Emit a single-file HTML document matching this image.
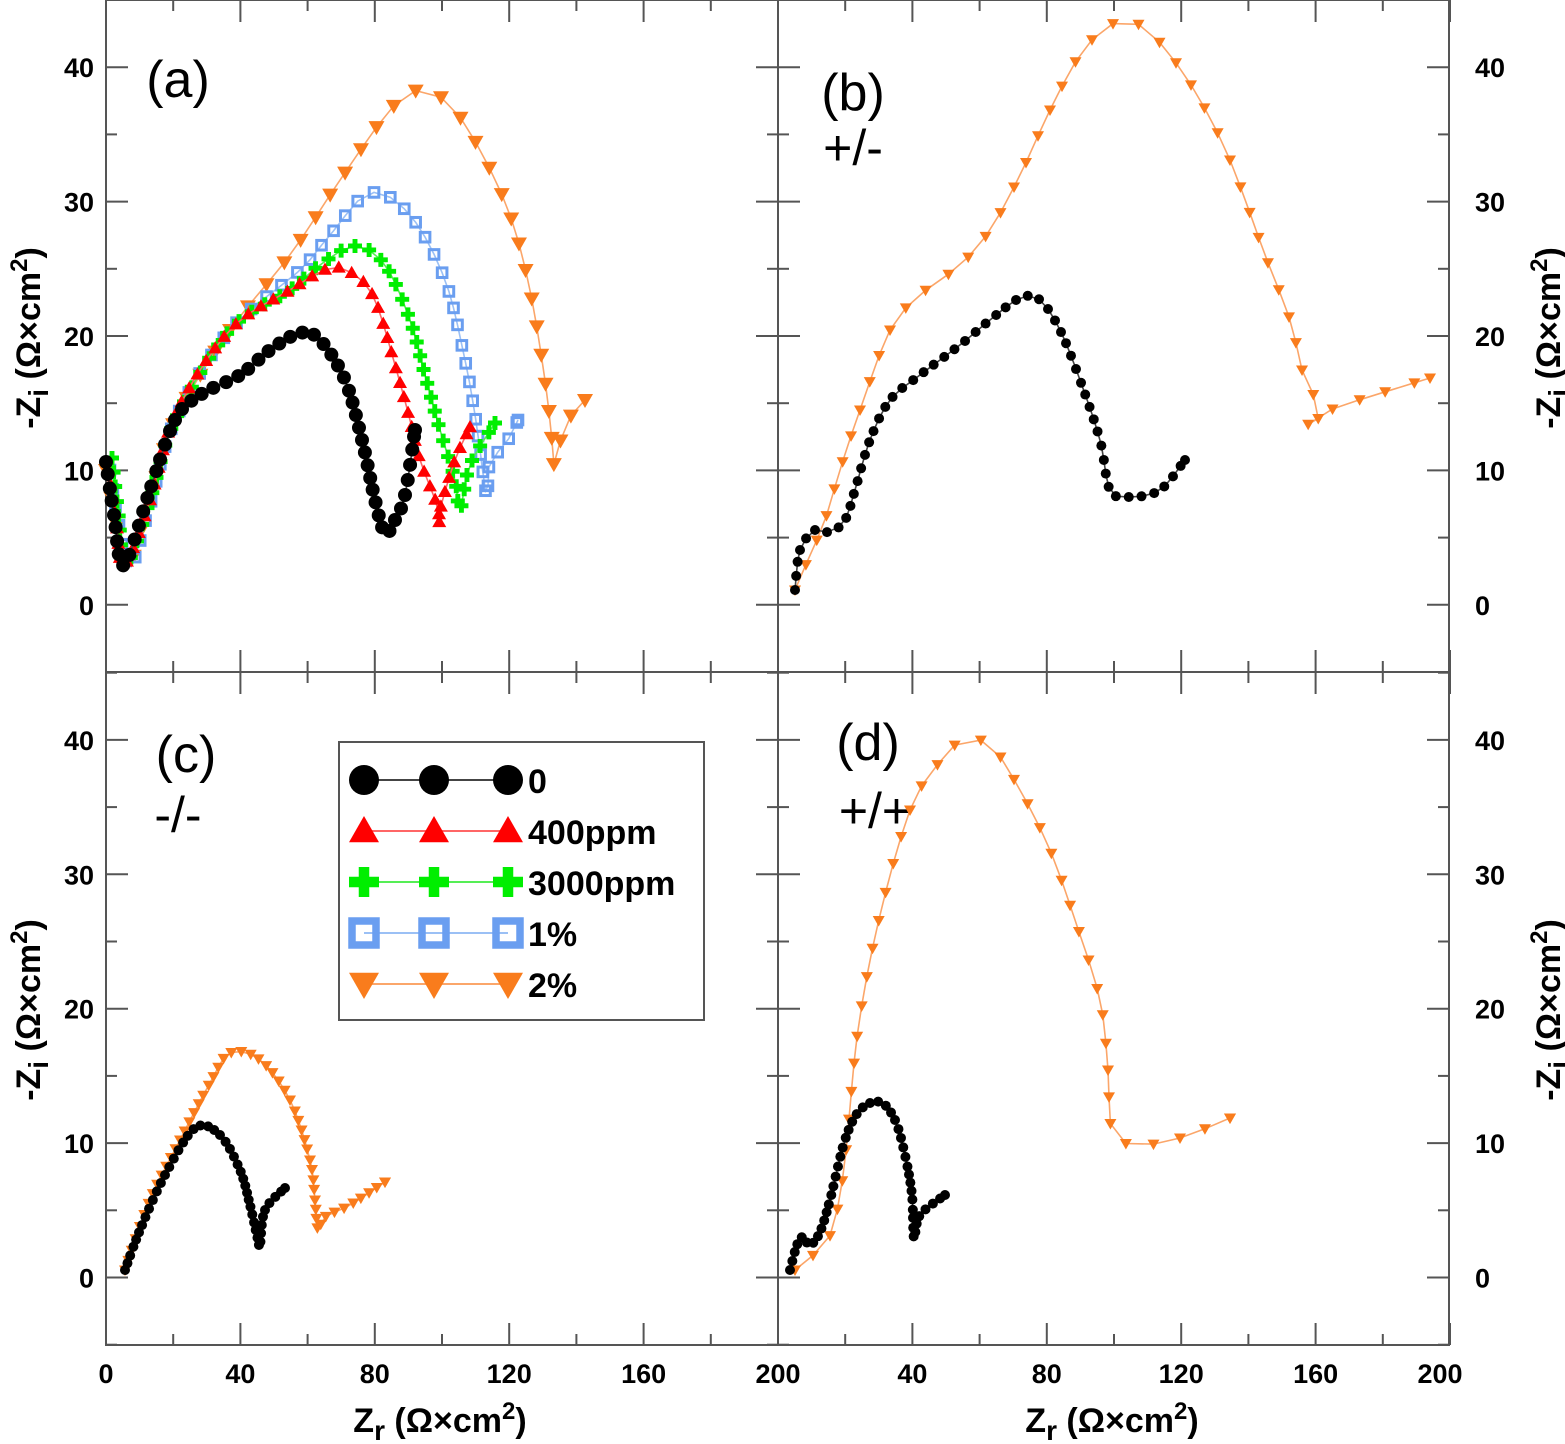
<!DOCTYPE html>
<html><head><meta charset="utf-8"><style>
html,body{margin:0;padding:0;background:#fff;}
svg{display:block;font-family:"Liberation Sans",Arial,sans-serif;font-weight:bold;}
</style></head><body>
<svg id="s" width="1565" height="1444" viewBox="0 0 1565 1444" xmlns="http://www.w3.org/2000/svg"></svg>
<script>
const S=document.getElementById('s');let h='';
const L=106,M=778,R=1449,T=0,MY=672,B=1345;
h+=`<rect x="${L}" y="${T}" width="${R-L}" height="${B-T}" fill="none" stroke="#555" stroke-width="2"/>`;
h+=`<line x1="${M}" y1="0" x2="${M}" y2="${B}" stroke="#555" stroke-width="2"/>`;
h+=`<line x1="${L}" y1="${MY}" x2="${R}" y2="${MY}" stroke="#555" stroke-width="2"/>`;
function ln(a,b,c,d){h+=`<line x1="${a}" y1="${b}" x2="${c}" y2="${d}" stroke="#555" stroke-width="2"/>`;}
function tx(x,y,t,sz,anc,extra){h+=`<text x="${x}" y="${y}" font-size="${sz}" text-anchor="${anc||'middle'}" ${extra||''}>${t}</text>`;}
const xs=672/200, ys=672/50;
[[L,0],[M,1]].forEach(([x0])=>{
 for(let v=0;v<=200;v+=20){const x=x0+v*xs;const len=v%40==0?22:11;
  ln(x,B,x,B-len);ln(x,MY,x,MY-len);ln(x,MY,x,MY+len);ln(x,T,x,T+len);}
});
[0,40,80,120,160,200].forEach(v=>{tx(L+v*xs,1383,v,27);});
[40,80,120,160].forEach(v=>{tx(M+v*xs,1383,v,27);});
tx(1440,1383,200,27);
[[604.8,0],[1277.5,1]].forEach(([y0])=>{
 for(let v=-5;v<=45;v+=5){const y=y0-v*ys;const len=v%10==0?22:11;
  ln(L,y,L+len,y);ln(M,y,M-len,y);ln(M,y,M+len,y);ln(R,y,R-len,y);
  if(v%10==0&&v>=0){tx(94,y+10,v,27,'end');tx(1475,y+10,v,27,'start');}}
});
function yt(x,y){h+=`<text transform="translate(${x},${y}) rotate(-90)" font-size="34" text-anchor="middle">-Z<tspan font-size="28" dy="8">i</tspan><tspan dy="-8"> (Ω×cm</tspan><tspan font-size="24" dy="-13">2</tspan><tspan dy="13">)</tspan></text>`;}
yt(40,338);yt(40,1010);yt(1560,338);yt(1560,1010);
function xt(x){h+=`<text x="${x}" y="1432" font-size="34" text-anchor="middle">Z<tspan font-size="28" dy="8">r</tspan><tspan dy="-8"> (Ω×cm</tspan><tspan font-size="24" dy="-13">2</tspan><tspan dy="13">)</tspan></text>`;}
xt(440);xt(1112);
const pl='font-weight="normal"';
tx(178,97,'(a)',52,'middle',pl);tx(853,110,'(b)',52,'middle',pl);tx(853,165,'+/-',50,'middle',pl);
tx(186,772,'(c)',52,'middle',pl);tx(178,832,'-/-',50,'middle',pl);tx(868,760,'(d)',52,'middle',pl);tx(875,828,'+/+',50,'middle',pl);
function cr(p){const out=[];for(let i=0;i<p.length-1;i++){const p0=p[Math.max(0,i-1)],p1=p[i],p2=p[i+1],p3=p[Math.min(p.length-1,i+2)];
 for(let t=0;t<1;t+=0.05){const t2=t*t,t3=t2*t;out.push([0,1].map(k=>0.5*(2*p1[k]+(-p0[k]+p2[k])*t+(2*p0[k]-5*p1[k]+4*p2[k]-p3[k])*t2+(-p0[k]+3*p1[k]-3*p2[k]+p3[k])*t3)));}}
 out.push(p[p.length-1]);return out;}
function res(p,sp){const c=cr(p);const o=[c[0]];let acc=0;for(let i=1;i<c.length;i++){const d=Math.hypot(c[i][0]-c[i-1][0],c[i][1]-c[i-1][1]);acc+=d;if(acc>=sp){o.push(c[i]);acc=0;}}o.push(c[c.length-1]);return o;}
const col={k:'#000',r:'#f00',g:'#0e0',b:'#6a9ef0',o:'#f97c1c'};
const lcol={k:'#444',r:'#f66',g:'#5e5',b:'#9bc0f5',o:'#fba66a'};
function mk(t,x,y,s){x=+x;y=+y;s=+s;const c=col[t];
 if(t=='k')return `<circle cx="${x}" cy="${y}" r="${s}" fill="#000"/>`;
 if(t=='r')return `<polygon points="${x},${y-s} ${x-s},${y+s*0.75} ${x+s},${y+s*0.75}" fill="${c}"/>`;
 if(t=='o')return `<polygon points="${x},${y+s} ${x-s},${y-s*0.75} ${x+s},${y-s*0.75}" fill="${c}"/>`;
 if(t=='g'){return `<path d="M${x-s} ${y}H${x+s}M${x} ${y-s}V${y+s}" stroke="${c}" stroke-width="${s*0.7}"/>`;}
 if(t=='b')return `<rect x="${x-s*0.8}" y="${y-s*0.8}" width="${s*1.6}" height="${s*1.6}" fill="none" stroke="${c}" stroke-width="${s*0.5}"/>`;}
function ser(t,pts,sp,s){const r=res(pts,sp);h+=`<polyline points="${r.map(p=>p[0].toFixed(1)+','+p[1].toFixed(1)).join(' ')}" fill="none" stroke="${lcol[t]}" stroke-width="1.6"/>`;r.forEach(p=>h+=mk(t,p[0],p[1],s));}
ser('o',[[106,470],[116,520],[128,567],[150,500],[175,420],[230,330],[290,255],[340,180],[390,110],[420,90],[450,105],[480,150],[510,215],[530,290],[545,380],[552,440],[555,465],[565,425],[585,400]],26,8);
ser('b',[[110,470],[118,520],[130,567],[150,505],[175,420],[230,330],[300,270],[330,235],[370,193],[410,215],[445,280],[465,360],[475,415],[480,450],[487,497],[490,462],[505,445],[518,420]],17,6);
ser('g',[[112,458],[118,510],[126,565],[150,500],[175,420],[230,330],[290,290],[320,265],[355,246],[385,265],[410,320],[425,375],[440,430],[455,480],[460,510],[470,465],[495,423]],14,7);
ser('r',[[108,470],[116,520],[124,565],[150,500],[175,415],[230,330],[290,290],[330,268],[355,275],[375,300],[395,365],[410,420],[420,460],[437,505],[440,525],[440,510],[455,460],[470,427]],14,7);
ser('k',[[106,462],[114,515],[124,565],[150,490],[175,420],[200,395],[240,375],[270,350],[300,333],[320,340],[345,380],[362,440],[375,500],[385,533],[395,520],[405,495],[415,430]],12,7);
ser('o',[[795,590],[810,555],[825,520],[840,470],[860,410],[890,330],[920,295],[960,265],[990,230],[1020,175],[1050,110],[1080,55],[1110,25],[1140,25],[1170,55],[1200,100],[1230,160],[1265,255],[1290,320],[1305,380],[1322,410],[1305,432],[1325,412],[1430,378]],26,6);
ser('k',[[795,590],[800,550],[815,530],[830,532],[845,520],[855,490],[870,440],[890,400],[920,375],[960,345],[990,320],[1020,298],[1040,300],[1060,330],[1080,380],[1100,440],[1110,490],[1130,497],[1160,490],[1185,460]],12,5);
ser('o',[[125,1270],[150,1200],[180,1140],[210,1083],[230,1053],[260,1060],[290,1100],[310,1160],[315,1200],[318,1230],[325,1217],[350,1205],[385,1182]],9,6);
ser('k',[[125,1270],[140,1230],[165,1175],[195,1128],[220,1135],[240,1170],[250,1205],[258,1240],[260,1245],[265,1210],[285,1188]],7,5);
ser('o',[[795,1270],[805,1255],[815,1255],[825,1245],[835,1220],[845,1160],[858,1030],[880,915],[910,810],[935,768],[960,742],[990,745],[1020,790],[1050,850],[1075,920],[1100,1000],[1108,1070],[1112,1130],[1135,1145],[1180,1138],[1230,1118]],26,6);
ser('k',[[790,1270],[797,1245],[803,1237],[810,1245],[820,1232],[830,1200],[845,1140],[860,1110],[880,1102],[895,1120],[905,1155],[912,1195],[914,1238],[920,1215],[945,1195]],8,5);
h+=`<rect x="339" y="742" width="365" height="278" fill="#fff" stroke="#555" stroke-width="2"/>`;
const lg=[['k','0'],['r','400ppm'],['g','3000ppm'],['b','1%'],['o','2%']];
lg.forEach(([t,n],i)=>{const y=780+i*51;h+=`<line x1="364" y1="${y}" x2="508" y2="${y}" stroke="${lcol[t]}" stroke-width="2"/>`;
 [364,434,508].forEach(x=>h+=mk(t,x,y,15));tx(528,y+13,n,34,'start');});
S.innerHTML=h;
</script>
</body></html>
